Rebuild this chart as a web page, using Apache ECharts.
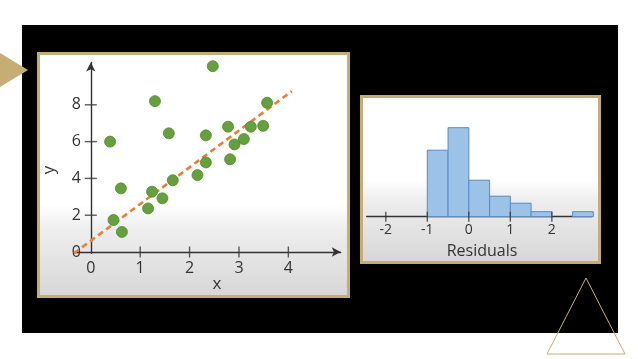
<!DOCTYPE html>
<html>
<head>
<meta charset="utf-8">
<script src="https://cdn.jsdelivr.net/npm/echarts@6/dist/echarts.min.js"></script>
<style>
html,body{margin:0;padding:0;background:#fff;}
#c{width:638px;height:359px;}
</style>
</head>
<body>
<div id="c"></div>
<script>
// ---- data ----
const xVals = [0.39,0.46,0.61,0.63,1.16,1.24,1.30,1.45,1.58,1.66,2.16,2.33,2.33,2.47,2.78,2.82,2.91,3.10,3.24,3.49,3.57];
const yVals = [6.00,1.74,3.46,1.09,2.37,3.28,8.20,2.92,6.45,3.90,4.18,6.34,4.87,10.1,6.81,5.04,5.85,6.14,6.81,6.86,8.11];
const fitX = [-0.34, 4.07];
const fitY = [-0.07, 8.74];
const xTicks = [0,1,2,3,4];
const yTicks = [0,2,4,6,8];
const binStart = [-1,-0.5,0,0.5,1,1.5,2,2.5];
const binHeight = [13.3,17.8,7.3,4.1,2.7,1,0,1];
const binWidth = 0.5;
const resTicks = [-2,-1,0,1,2];

const FONT = '"Open Sans", "Liberation Sans", sans-serif';
const GOLD = '#c6ad74';
const AX = '#333333';

const chart = echarts.init(document.getElementById('c'), null, {renderer:'canvas'});

const panelFill = new echarts.graphic.LinearGradient(0,0,0,1,[
  {offset:0,color:'#ffffff'},{offset:0.62,color:'#ffffff'},{offset:0.72,color:'#eeeeee'},{offset:1,color:'#d6d6d6'}]);
const panelFill2 = new echarts.graphic.LinearGradient(0,0,0,1,[
  {offset:0,color:'#ffffff'},{offset:0.5,color:'#ffffff'},{offset:0.62,color:'#eeeeee'},{offset:1,color:'#d6d6d6'}]);

const option = {
  animation:false,
  backgroundColor:'#ffffff',
  graphic:[
    {type:'rect', z:-100, shape:{x:22,y:25,width:596,height:308}, style:{fill:'#000'}},
    {type:'polygon', z:-90, shape:{points:[[0,53],[28,70],[0,87]]}, style:{fill:GOLD}},
    {type:'rect', z:-90, shape:{x:38.5,y:53.5,width:310,height:243}, style:{fill:panelFill, stroke:GOLD, lineWidth:3}},
    {type:'rect', z:-90, shape:{x:361.5,y:96.5,width:238,height:166}, style:{fill:panelFill2, stroke:GOLD, lineWidth:3}},
    {type:'polygon', z:50, shape:{points:[[586,278],[547,354],[625,354]]}, style:{fill:'none', stroke:GOLD, lineWidth:1}},
    {type:'text', z:50, x:217, y:284, style:{text:'x', fill:AX, font:'17px '+FONT, align:'center', verticalAlign:'middle'}},
    {type:'text', z:50, x:49, y:170, rotation:Math.PI/2, style:{text:'y', fill:AX, font:'17px '+FONT, align:'center', verticalAlign:'middle'}},
    {type:'text', z:50, x:482, y:251, style:{text:'Residuals', fill:AX, font:'16px '+FONT, align:'center', verticalAlign:'middle'}}
  ],
  grid:[
    {left:74, top:62.5, width:266.7, height:190.8},
    {left:366.7, top:116.7, width:225, height:100}
  ],
  xAxis:[
    {gridIndex:0, type:'value', min:-0.34, max:5.06,
     axisLine:{show:true, onZero:true, symbol:['none','arrow'], symbolSize:[7,9], lineStyle:{color:AX,width:1.4}},
     axisTick:{show:false}, splitLine:{show:false},
     axisLabel:{customValues:xTicks, margin:7, fontSize:16, color:AX, fontFamily:FONT}},
    {gridIndex:1, type:'value', min:-2.46, max:2.96,
     axisLine:{show:true, onZero:true, lineStyle:{color:AX,width:1.4}},
     axisTick:{show:false}, splitLine:{show:false},
     axisLabel:{customValues:resTicks, margin:6, fontSize:14, color:AX, fontFamily:FONT}}
  ],
  yAxis:[
    {gridIndex:0, type:'value', min:-0.07, max:10.3,
     axisLine:{show:true, onZero:true, symbol:['none','arrow'], symbolSize:[7,9], lineStyle:{color:AX,width:1.4}},
     axisTick:{show:false}, splitLine:{show:false},
     axisLabel:{customValues:yTicks, margin:-7, fontSize:16, color:AX, fontFamily:FONT}},
    {gridIndex:1, type:'value', min:0, max:20, show:false}
  ],
  series:[
    {type:'custom', xAxisIndex:1, yAxisIndex:1, z:2,
     data: binStart.map((b,i)=>[b, b+binWidth, binHeight[i]]),
     renderItem:function(params, api){
       const h = api.value(2);
       if(!h) return null;
       const p0 = api.coord([api.value(0), 0]);
       const p1 = api.coord([api.value(1), h]);
       return {type:'rect', shape:{x:p0[0], y:p1[1], width:p1[0]-p0[0], height:p0[1]-p1[1]},
               style:{fill:'#9cc2e8', stroke:'#5a8ac6', lineWidth:1}};
     }},
    {type:'scatter', xAxisIndex:1, yAxisIndex:1, silent:true, z:3,
     data: resTicks.map(v=>[v,0]), symbol:'rect', symbolSize:[1.4,10], itemStyle:{color:AX}},
    {type:'scatter', xAxisIndex:0, yAxisIndex:0, silent:true, z:1,
     data: xTicks.filter(v=>v!==0).map(v=>[v,0]), symbol:'rect', symbolSize:[1.4,11], itemStyle:{color:AX}},
    {type:'scatter', xAxisIndex:0, yAxisIndex:0, silent:true, z:1,
     data: yTicks.filter(v=>v!==0).map(v=>[0,v]), symbol:'rect', symbolSize:[12,1.4], itemStyle:{color:AX}},
    {type:'line', xAxisIndex:0, yAxisIndex:0, z:3, symbol:'none', silent:true,
     data: fitX.map((x,i)=>[x, fitY[i]]),
     lineStyle:{color:'#ed7d31', width:2.6, type:[6,4]}},
    {type:'scatter', xAxisIndex:0, yAxisIndex:0, z:4,
     data: xVals.map((x,i)=>[x, yVals[i]]), symbolSize:11,
     itemStyle:{color:'#64a13c', borderColor:'#4f8a2e', borderWidth:0.8, opacity:1}}
  ]
};
chart.setOption(option);
</script>
</body>
</html>
